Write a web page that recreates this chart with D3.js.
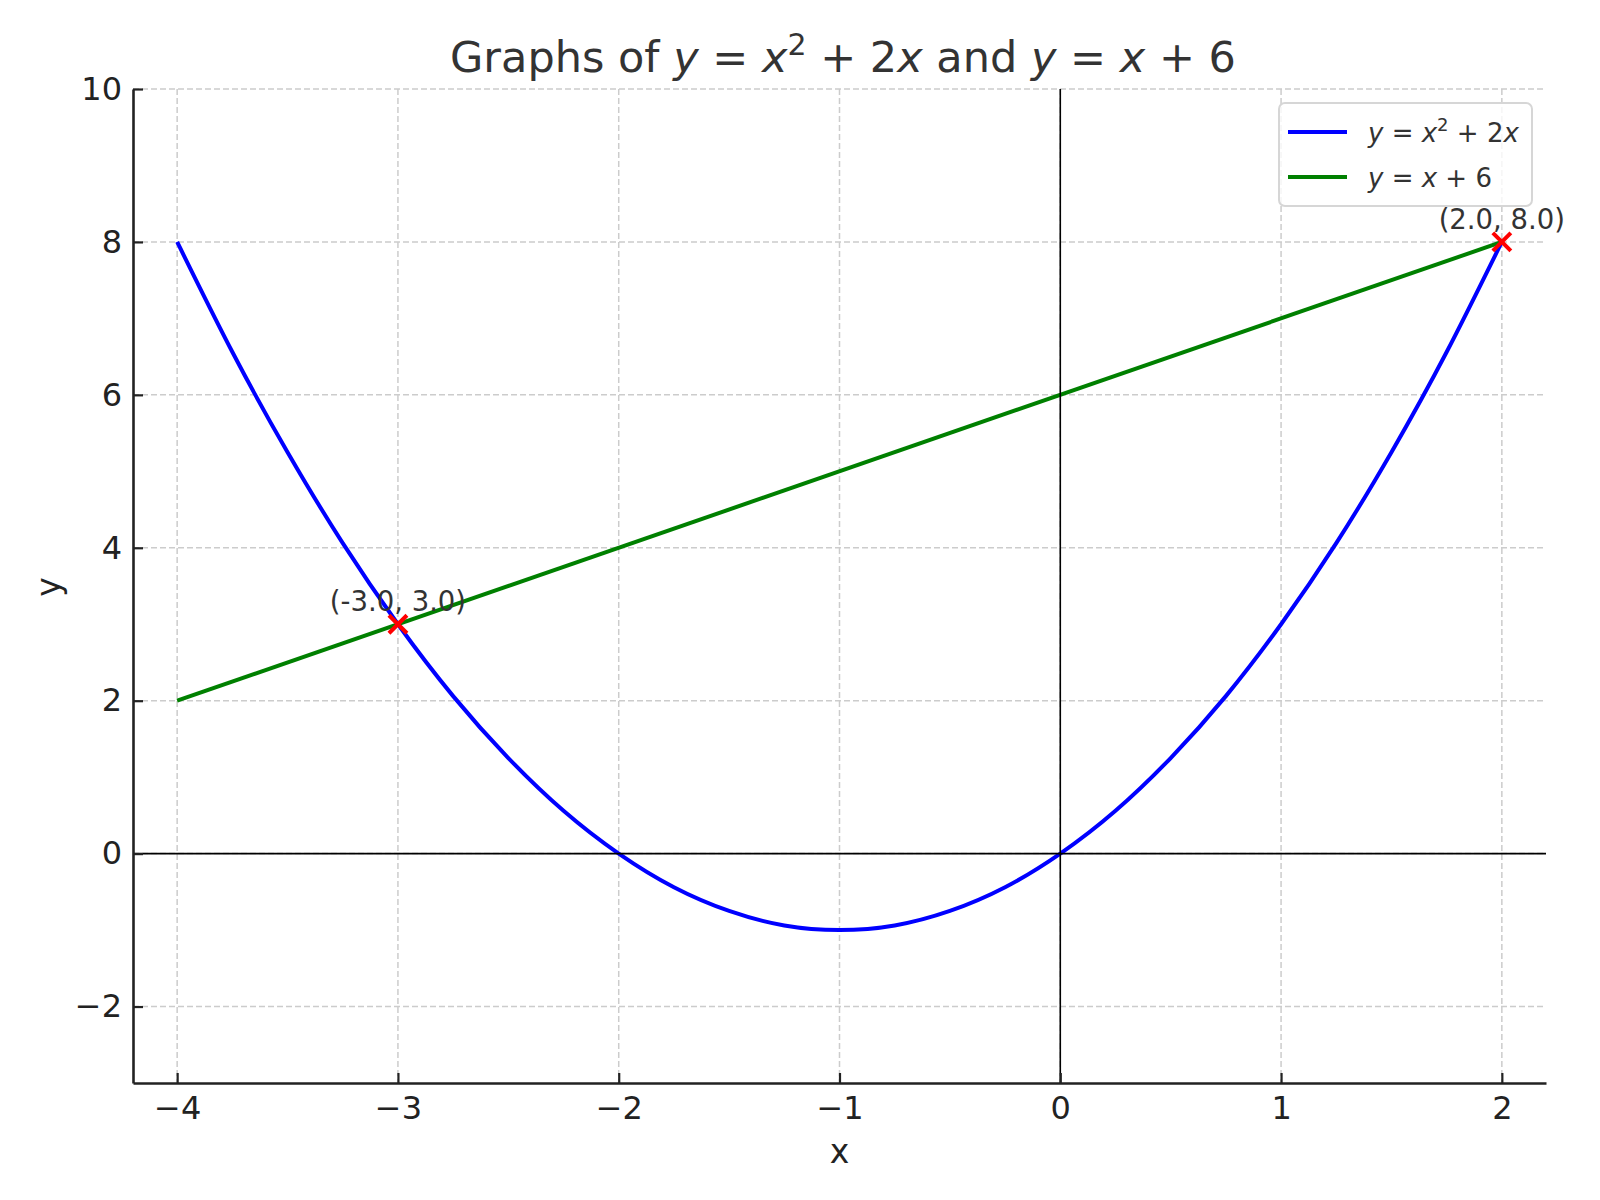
<!DOCTYPE html>
<html>
<head>
<meta charset="utf-8">
<script src="https://cdn.jsdelivr.net/npm/d3@7"></script>
<style>
  body { margin: 0; background: #fff; }
  text { font-family: "DejaVu Sans", sans-serif; }
</style>
</head>
<body>
<script>
// values
var parabolaX = [-4, -3.75, -3.5, -3.25, -3, -2.75, -2.5, -2.25, -2, -1.75, -1.5, -1.25, -1,
                 -0.75, -0.5, -0.25, 0, 0.25, 0.5, 0.75, 1, 1.25, 1.5, 1.75, 2];
var parabolaY = [8, 6.56, 5.25, 4.06, 3, 2.06, 1.25, 0.56, 0, -0.44, -0.75, -0.94, -1,
                 -0.94, -0.75, -0.44, 0, 0.56, 1.25, 2.06, 3, 4.06, 5.25, 6.56, 8];
var lineX = [-4, 2];
var lineY = [2, 8];
var crossX = [-3, 2];
var crossY = [3, 8];
var crossLabels = ["(-3.0, 3.0)", "(2.0, 8.0)"];
var xTicks = [-4, -3, -2, -1, 0, 1, 2];
var yTicks = [-2, 0, 2, 4, 6, 8, 10];

var svgWidth = 1600, svgHeight = 1200;
var plotLeft = 133, plotRight = 1546, plotTop = 89, plotBottom = 1083;

var svg = d3.select("body").append("svg")
    .attr("width", svgWidth)
    .attr("height", svgHeight);

var x = d3.scaleLinear().domain([-4.2, 2.2]).range([plotLeft, plotRight]);
var y = d3.scaleLinear().domain([-3, 10]).range([plotBottom, plotTop]);

// grid
svg.append("g").selectAll("line").data(xTicks).enter().append("line")
    .attr("x1", d => x(d)).attr("x2", d => x(d))
    .attr("y1", plotTop).attr("y2", plotBottom)
    .attr("stroke", "#cccccc").attr("stroke-width", 1.5)
    .attr("stroke-dasharray", "6,3");
svg.append("g").selectAll("line").data(yTicks).enter().append("line")
    .attr("x1", plotLeft).attr("x2", plotRight)
    .attr("y1", d => y(d)).attr("y2", d => y(d))
    .attr("stroke", "#cccccc").attr("stroke-width", 1.5)
    .attr("stroke-dasharray", "6,3");

// curves
var parabola = parabolaX.map((d, i) => [d, parabolaY[i]]);
var straight = lineX.map((d, i) => [d, lineY[i]]);

var path = d3.line().x(d => x(d[0])).y(d => y(d[1]));

svg.append("path")
    .attr("d", path.curve(d3.curveNatural)(parabola))
    .attr("fill", "none")
    .attr("stroke", "#0000ff")
    .attr("stroke-width", 4);

svg.append("path")
    .attr("d", path.curve(d3.curveLinear)(straight))
    .attr("fill", "none")
    .attr("stroke", "#008000")
    .attr("stroke-width", 4);

// zero lines
svg.append("line")
    .attr("x1", plotLeft).attr("x2", plotRight)
    .attr("y1", y(0)).attr("y2", y(0))
    .attr("stroke", "#000").attr("stroke-width", 1.6);
svg.append("line")
    .attr("x1", x(0)).attr("x2", x(0))
    .attr("y1", plotTop).attr("y2", plotBottom)
    .attr("stroke", "#000").attr("stroke-width", 1.6);

// intersection markers
var cross = crossX.map((d, i) => ({ x: d, y: crossY[i], label: crossLabels[i] }));
var marks = svg.append("g").selectAll("g").data(cross).enter().append("g")
    .attr("transform", d => "translate(" + x(d.x) + "," + y(d.y) + ")");
marks.append("path")
    .attr("d", "M-9,-9L9,9M-9,9L9,-9")
    .attr("stroke", "#ff0000")
    .attr("stroke-width", 4);
marks.append("text")
    .attr("y", -13)
    .attr("text-anchor", "middle")
    .attr("font-size", 27.5)
    .attr("fill", "#333")
    .text(d => d.label);

// axes
var fmt = d3.format("d");
var xAxis = svg.append("g")
    .attr("transform", "translate(0," + plotBottom + ")")
    .call(d3.axisBottom(x).tickValues(xTicks).tickFormat(fmt)
      .tickSizeInner(-10).tickSizeOuter(0).tickPadding(13));
var yAxis = svg.append("g")
    .attr("transform", "translate(" + plotLeft + ",0)")
    .call(d3.axisLeft(y).tickValues(yTicks).tickFormat(fmt)
      .tickSizeInner(-10).tickSizeOuter(0).tickPadding(11));

[xAxis, yAxis].forEach(function(a) {
  a.select(".domain").attr("stroke", "#222").attr("stroke-width", 2.6);
  a.selectAll(".tick line").attr("stroke", "#222").attr("stroke-width", 2.2);
  a.selectAll(".tick text")
      .attr("font-size", 32)
      .attr("fill", "#222")
      .style("font-family", "DejaVu Sans");
});

// axis labels
svg.append("text")
    .attr("x", (plotLeft + plotRight) / 2)
    .attr("y", 1163)
    .attr("text-anchor", "middle")
    .attr("font-size", 33)
    .attr("fill", "#222")
    .text("x");
svg.append("text")
    .attr("transform", "translate(60,587) rotate(-90)")
    .attr("text-anchor", "middle")
    .attr("font-size", 33)
    .attr("fill", "#222")
    .text("y");

// title
var title = svg.append("text")
    .attr("x", 843)
    .attr("y", 72)
    .attr("text-anchor", "middle")
    .attr("font-size", 43)
    .attr("fill", "#333");
var titleParts = [
  ["Graphs of ", false], ["y", true], [" = ", false], ["x", true], ["2", "sup"],
  [" + 2", "back"], ["x", true], [" and ", false], ["y", true], [" = ", false],
  ["x", true], [" + 6", false]
];
titleParts.forEach(function(p) {
  var t = title.append("tspan").text(p[0]);
  if (p[1] === true) t.attr("font-style", "italic");
  if (p[1] === "sup") t.attr("font-size", 30).attr("dy", -17);
  if (p[1] === "back") t.attr("dy", 17);
});

// legend
var legend = svg.append("g");
legend.append("rect")
    .attr("x", 1279).attr("y", 103)
    .attr("width", 253).attr("height", 103)
    .attr("rx", 6)
    .attr("fill", "#fff")
    .attr("fill-opacity", 0.8)
    .attr("stroke", "#d6d6d6")
    .attr("stroke-width", 2);

var legendItems = [
  { color: "#0000ff", parts: [["y", true], [" = ", false], ["x", true], ["2", "sup"], [" + 2", "back"], ["x", true]] },
  { color: "#008000", parts: [["y", true], [" = ", false], ["x", true], [" + 6", false]] }
];
legendItems.forEach(function(item, i) {
  var cy = 132 + i * 45;
  legend.append("line")
      .attr("x1", 1288).attr("x2", 1347)
      .attr("y1", cy).attr("y2", cy)
      .attr("stroke", item.color)
      .attr("stroke-width", 4);
  var t = legend.append("text")
      .attr("x", 1368).attr("y", cy + 10)
      .attr("font-size", 26)
      .attr("fill", "#333");
  item.parts.forEach(function(p) {
    var s = t.append("tspan").text(p[0]);
    if (p[1] === true) s.attr("font-style", "italic");
    if (p[1] === "sup") s.attr("font-size", 18).attr("dy", -11);
    if (p[1] === "back") s.attr("dy", 11);
  });
});
</script>
</body>
</html>
